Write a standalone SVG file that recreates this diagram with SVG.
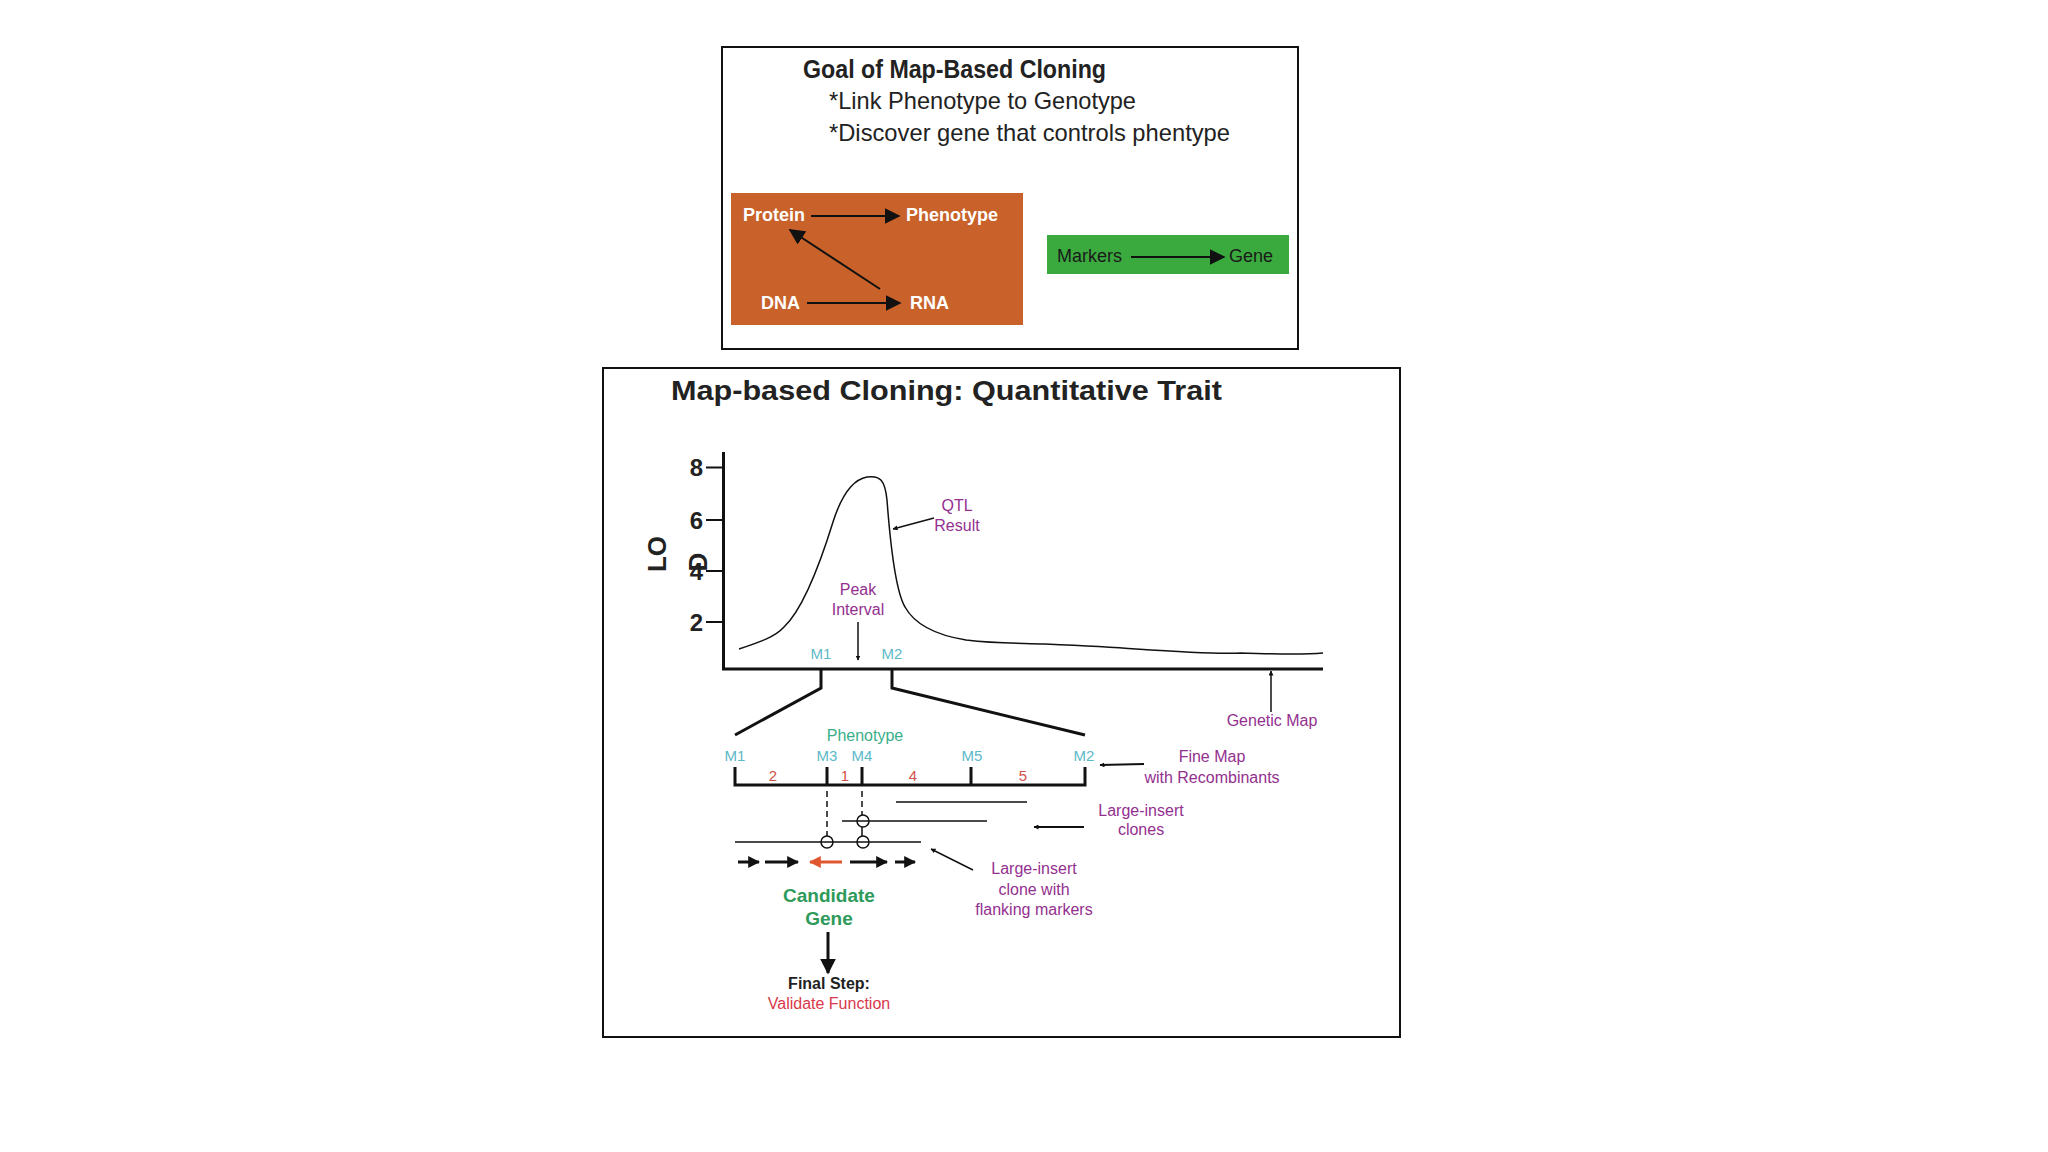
<svg xmlns="http://www.w3.org/2000/svg" width="2048" height="1152" viewBox="0 0 2048 1152">
<defs>
<marker id="ah" viewBox="0 0 10 10" refX="9" refY="5" markerWidth="5" markerHeight="5" orient="auto-start-reverse" markerUnits="userSpaceOnUse"><path d="M0,0 L10,5 L0,10 z" fill="#111"/></marker>
<marker id="big" viewBox="0 0 10 10" refX="9" refY="5" markerWidth="16" markerHeight="16" orient="auto" markerUnits="userSpaceOnUse"><path d="M0,0 L10,5 L0,10 z" fill="#111"/></marker>
<marker id="mid" viewBox="0 0 10 10" refX="9" refY="5" markerWidth="12" markerHeight="12" orient="auto" markerUnits="userSpaceOnUse"><path d="M0,0 L10,5 L0,10 z" fill="#111"/></marker>
<marker id="red" viewBox="0 0 10 10" refX="9" refY="5" markerWidth="12" markerHeight="12" orient="auto" markerUnits="userSpaceOnUse"><path d="M0,0 L10,5 L0,10 z" fill="#E0562E"/></marker>
</defs>
<style>
text{font-family:"Liberation Sans","DejaVu Sans",sans-serif}
.w{fill:#fff;font-weight:bold;font-size:18px}
.p{fill:#93308F;font-size:16px;text-anchor:middle}
.c{fill:#5BB9C8;font-size:15px;text-anchor:middle}
.r{fill:#D2504A;font-size:15px;text-anchor:middle}
.ax{font-size:24px;font-weight:bold;fill:#222;text-anchor:end}
.ln{stroke:#111;fill:none}
</style>
<rect width="2048" height="1152" fill="#fff"/>
<g id="top-box">
<rect x="722" y="47" width="576" height="302" fill="#fff" stroke="#111" stroke-width="2"/>
<text x="803" y="78" font-size="25" font-weight="bold" fill="#222" textLength="303" lengthAdjust="spacingAndGlyphs">Goal of Map-Based Cloning</text>
<text x="829" y="109" font-size="24" fill="#222" textLength="307" lengthAdjust="spacingAndGlyphs">*Link Phenotype to Genotype</text>
<text x="829" y="141" font-size="24" fill="#222" textLength="401" lengthAdjust="spacingAndGlyphs">*Discover gene that controls phentype</text>
</g>
<g id="orange-box">
<rect x="731" y="193" width="292" height="132" fill="#C8622A"/>
<text class="w" x="743" y="221">Protein</text>
<text class="w" x="906" y="221">Phenotype</text>
<text class="w" x="761" y="309">DNA</text>
<text class="w" x="910" y="309">RNA</text>
</g>
<g id="green-box">
<rect x="1047" y="235" width="242" height="39" fill="#3BAA3E"/>
<text x="1057" y="262" font-size="18" fill="#1a1a1a">Markers</text>
<text x="1229" y="262" font-size="18" fill="#1a1a1a">Gene</text>
</g>
<g id="bottom-box">
<rect x="603" y="368" width="797" height="669" fill="#fff" stroke="#111" stroke-width="2"/>
<text x="671" y="400" font-size="28" font-weight="bold" fill="#222" textLength="551" lengthAdjust="spacingAndGlyphs">Map-based Cloning: Quantitative  Trait</text>
</g>
<g id="lod-axis">
<path class="ln" stroke-width="3" d="M723.5,452 V669 H1323"/>
<path class="ln" stroke-width="2" d="M706,467.5 H723 M706,520 H723 M706,571 H723 M706,622 H723"/>
<text class="ax" x="703" y="476">8</text>
<text class="ax" x="703" y="529">6</text>
<text class="ax" x="703" y="580">4</text>
<text class="ax" x="703" y="631">2</text>
<text x="0" y="0" font-size="26" font-weight="bold" fill="#222" text-anchor="middle" transform="translate(666,554) rotate(-90)">LO</text>
<text x="0" y="0" font-size="26" font-weight="bold" fill="#222" text-anchor="middle" transform="translate(707,562) rotate(-90)">D</text>
</g>
<g id="qtl-curve">
<path class="ln" stroke="#444" stroke-width="1.5" d="M739,649 C760,642 775,637 784,627 C800,612 815,580 833,522 C840,500 850,480 867,477 C880,475 885,480 887,500 C890,540 895,590 905,607 C915,625 935,635 966,640 C1000,644 1020,643 1045,644 C1090,646 1110,647 1136,649 C1180,652 1220,654 1241,653 C1280,654 1300,655 1323,653"/>
</g>
<g id="qtl-label">
<text class="p" x="957" y="511">QTL</text>
<text class="p" x="957" y="531">Result</text>
</g>
<g id="peak-label">
<text class="p" x="858" y="595">Peak</text>
<text class="p" x="858" y="615">Interval</text>
<text class="c" x="821" y="659">M1</text>
<text class="c" x="892" y="659">M2</text>
</g>
<g id="genetic-map-label"><text class="p" x="1272" y="726">Genetic  Map</text></g>
<g id="fine-map">
<text x="865" y="741" font-size="16" fill="#3AAE8A" text-anchor="middle">Phenotype</text>
<text class="c" x="735" y="761">M1</text>
<text class="c" x="827" y="761">M3</text>
<text class="c" x="862" y="761">M4</text>
<text class="c" x="972" y="761">M5</text>
<text class="c" x="1084" y="761">M2</text>
<path class="ln" stroke-width="3" d="M735,767 V785 H1085 V767 M827,767 V785 M862,767 V785 M971,767 V785"/>
<text class="r" x="773" y="781">2</text>
<text class="r" x="845" y="781">1</text>
<text class="r" x="913" y="781">4</text>
<text class="r" x="1023" y="781">5</text>
<text class="p" x="1212" y="762">Fine Map</text>
<text class="p" x="1212" y="783">with Recombinants</text>
</g>
<g id="clones">
<path class="ln" stroke-width="1.5" d="M896,802 H1027 M842,821 H987 M735,842 H921"/>
<path class="ln" stroke-width="1.5" stroke-dasharray="6,4" d="M827,791 V836 M862,791 V815"/>
<path class="ln" stroke-width="1.5" d="M862,827 V836"/>
<circle cx="863" cy="821" r="6" fill="none" stroke="#111" stroke-width="1.5"/>
<circle cx="827" cy="842" r="6" fill="none" stroke="#111" stroke-width="1.5"/>
<circle cx="863" cy="842" r="6" fill="none" stroke="#111" stroke-width="1.5"/>
<text class="p" x="1141" y="816">Large-insert</text>
<text class="p" x="1141" y="835">clones</text>
<text class="p" x="1034" y="874">Large-insert</text>
<text class="p" x="1034" y="895">clone with</text>
<text class="p" x="1034" y="915">flanking markers</text>
</g>
<g id="candidate">
<text x="829" y="902" font-size="19" font-weight="bold" fill="#2E9A5A" text-anchor="middle">Candidate</text>
<text x="829" y="925" font-size="19" font-weight="bold" fill="#2E9A5A" text-anchor="middle">Gene</text>
<text x="829" y="989" font-size="16" font-weight="bold" fill="#222" text-anchor="middle">Final Step:</text>
<text x="829" y="1009" font-size="16" fill="#D9394A" text-anchor="middle">Validate Function</text>
</g>
<g id="connectors">
<line class="ln" stroke-width="2" x1="811" y1="216" x2="899" y2="216" marker-end="url(#big)"/>
<line class="ln" stroke-width="2" x1="807" y1="303" x2="900" y2="303" marker-end="url(#big)"/>
<line class="ln" stroke-width="2" x1="880" y1="289" x2="790" y2="230" marker-end="url(#big)"/>
<line class="ln" stroke-width="2" x1="1131" y1="257" x2="1224" y2="257" marker-end="url(#big)"/>
<line class="ln" stroke-width="1.5" x1="934" y1="518" x2="893" y2="529" marker-end="url(#ah)"/>
<line class="ln" stroke-width="1.5" x1="858" y1="622" x2="858" y2="660" marker-end="url(#ah)"/>
<path class="ln" stroke-width="3" d="M821,669 V688 L735,735 M892,669 V688 L1085,735"/>
<line class="ln" stroke-width="1.5" x1="1271" y1="712" x2="1271" y2="671" marker-end="url(#ah)"/>
<line class="ln" stroke-width="2" x1="1144" y1="764" x2="1100" y2="765" marker-end="url(#ah)"/>
<line class="ln" stroke-width="2" x1="1084" y1="827" x2="1034" y2="827" marker-end="url(#ah)"/>
<line class="ln" stroke-width="1.5" x1="973" y1="870" x2="931" y2="849" marker-end="url(#ah)"/>
<line class="ln" stroke-width="3" x1="738" y1="862" x2="759" y2="862" marker-end="url(#mid)"/>
<line class="ln" stroke-width="3" x1="765" y1="862" x2="798" y2="862" marker-end="url(#mid)"/>
<line stroke="#E0562E" stroke-width="3" x1="842" y1="862" x2="810" y2="862" marker-end="url(#red)"/>
<line class="ln" stroke-width="3" x1="850" y1="862" x2="887" y2="862" marker-end="url(#mid)"/>
<line class="ln" stroke-width="3" x1="895" y1="862" x2="915" y2="862" marker-end="url(#mid)"/>
<line class="ln" stroke-width="3" x1="828" y1="932" x2="828" y2="973" marker-end="url(#big)"/>
</g>
</svg>
